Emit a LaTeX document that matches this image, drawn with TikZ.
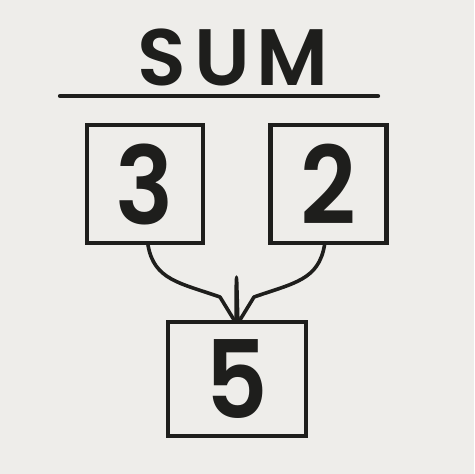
\documentclass[tikz,border=0pt]{standalone}
\usepackage{fontspec}
\setmainfont{Poppins}[BoldFont={Poppins SemiBold}]
\definecolor{bg}{HTML}{EEEDEA}
\definecolor{ink}{HTML}{1E1E1C}
\newcommand{\dig}[1]{\scalebox{0.9}[1]{#1}}
\begin{document}
\begin{tikzpicture}[x=0.5pt,y=-0.5pt,
  numbox/.style={draw=ink,line width=2.1pt,minimum width=58pt,minimum height=59pt,inner sep=0pt,font=\fontsize{54}{54}\selectfont\bfseries,text=ink},
  conn/.style={draw=ink,line width=1.8pt,line join=round,line cap=round}]
\fill[bg] (0,0) rectangle (474,474);
\useasboundingbox (0,0) rectangle (474,474);
\node[text=ink,font=\fontsize{40}{40}\selectfont\bfseries,inner sep=0pt] (title) at (233,57) {S\kern4pt U\kern3pt M};
\coordinate (l0) at (60,96);
\coordinate (l1) at (378,96);
\draw[ink,line width=2.1pt,line cap=round] (l0) -- (l1);
\node[numbox] (a) at (145,184) {\dig{3}};
\node[numbox] (b) at (328.5,184) {\dig{2}};
\node[numbox,minimum width=69pt,minimum height=57pt] (c) at (237,379) {\dig{5}};
\draw[conn] ([xshift=1.5pt]a.south) .. controls +(6,35) and +(-40,-14) .. (220,297) -- ([xshift=-1.5pt]c.north);
\draw[conn] ([xshift=-2pt]b.south) .. controls +(-6,35) and +(40,-14) .. (254,297) -- ([xshift=1.5pt]c.north);
\fill[ink] ([xshift=-1.3pt]c.north) -- (234.5,282) .. controls (234.5,273) and (238.5,273) .. (238.5,282) -- ([xshift=1.3pt]c.north) -- cycle;
\end{tikzpicture}
\end{document}
